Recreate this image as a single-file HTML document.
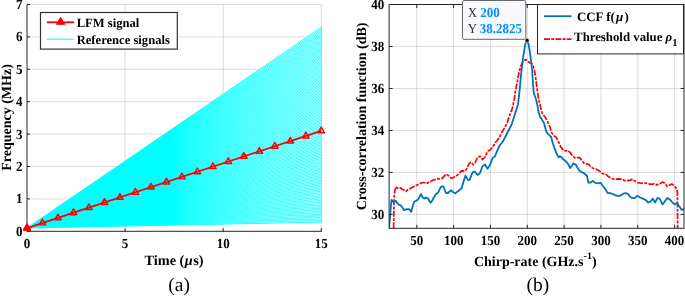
<!DOCTYPE html>
<html><head><meta charset="utf-8"><style>html,body{margin:0;padding:0;background:#fff;overflow:hidden}svg{display:block}text{text-rendering:geometricPrecision}</style></head>
<body>
<svg width="685" height="296" viewBox="0 0 685 296">
<rect width="685" height="296" fill="#fff"/>
<line x1="27.0" y1="198.90" x2="321.25" y2="198.90" stroke="#000" stroke-opacity="0.14" stroke-width="1"/>
<line x1="27.0" y1="166.50" x2="321.25" y2="166.50" stroke="#000" stroke-opacity="0.14" stroke-width="1"/>
<line x1="27.0" y1="134.10" x2="321.25" y2="134.10" stroke="#000" stroke-opacity="0.14" stroke-width="1"/>
<line x1="27.0" y1="101.70" x2="321.25" y2="101.70" stroke="#000" stroke-opacity="0.14" stroke-width="1"/>
<line x1="27.0" y1="69.30" x2="321.25" y2="69.30" stroke="#000" stroke-opacity="0.14" stroke-width="1"/>
<line x1="27.0" y1="36.90" x2="321.25" y2="36.90" stroke="#000" stroke-opacity="0.14" stroke-width="1"/>
<line x1="27.0" y1="4.50" x2="321.25" y2="4.50" stroke="#000" stroke-opacity="0.14" stroke-width="1"/>
<line x1="125.08" y1="4.5" x2="125.08" y2="231.3" stroke="#000" stroke-opacity="0.14" stroke-width="1"/>
<line x1="223.17" y1="4.5" x2="223.17" y2="231.3" stroke="#000" stroke-opacity="0.14" stroke-width="1"/>
<line x1="321.25" y1="4.5" x2="321.25" y2="231.3" stroke="#000" stroke-opacity="0.14" stroke-width="1"/>
<path d="M27.00 228.06L321.25 27.29L321.25 222.03Z" fill="#00ffff" stroke="#00ffff" stroke-width="1" stroke-linejoin="bevel"/>
<defs><linearGradient id="fg" gradientUnits="userSpaceOnUse" x1="170" y1="0" x2="321" y2="0"><stop offset="0" stop-color="#fff" stop-opacity="0"/><stop offset="1" stop-color="#fff" stop-opacity="1.0"/></linearGradient></defs>
<path d="M27.00 228.06L321.25 221.26M27.00 228.06L321.25 219.72M27.00 228.06L321.25 218.17M27.00 228.06L321.25 216.62M27.00 228.06L321.25 215.08M27.00 228.06L321.25 213.53M27.00 228.06L321.25 211.99M27.00 228.06L321.25 210.44M27.00 228.06L321.25 208.90M27.00 228.06L321.25 207.35M27.00 228.06L321.25 205.81M27.00 228.06L321.25 204.26M27.00 228.06L321.25 202.71M27.00 228.06L321.25 201.17M27.00 228.06L321.25 199.62M27.00 228.06L321.25 198.08M27.00 228.06L321.25 196.53M27.00 228.06L321.25 194.99M27.00 228.06L321.25 193.44M27.00 228.06L321.25 191.90M27.00 228.06L321.25 190.35M27.00 228.06L321.25 188.80M27.00 228.06L321.25 187.26M27.00 228.06L321.25 185.71M27.00 228.06L321.25 184.17M27.00 228.06L321.25 182.62M27.00 228.06L321.25 181.08M27.00 228.06L321.25 179.53M27.00 228.06L321.25 177.99M27.00 228.06L321.25 176.44M27.00 228.06L321.25 174.89M27.00 228.06L321.25 173.35M27.00 228.06L321.25 171.80M27.00 228.06L321.25 170.26M27.00 228.06L321.25 168.71M27.00 228.06L321.25 167.17M27.00 228.06L321.25 165.62M27.00 228.06L321.25 164.08M27.00 228.06L321.25 162.53M27.00 228.06L321.25 160.98M27.00 228.06L321.25 159.44M27.00 228.06L321.25 157.89M27.00 228.06L321.25 156.35M27.00 228.06L321.25 154.80M27.00 228.06L321.25 153.26M27.00 228.06L321.25 151.71M27.00 228.06L321.25 150.17M27.00 228.06L321.25 148.62M27.00 228.06L321.25 147.07M27.00 228.06L321.25 145.53M27.00 228.06L321.25 143.98M27.00 228.06L321.25 142.44M27.00 228.06L321.25 140.89M27.00 228.06L321.25 139.35M27.00 228.06L321.25 137.80M27.00 228.06L321.25 136.26M27.00 228.06L321.25 134.71M27.00 228.06L321.25 133.16M27.00 228.06L321.25 131.62M27.00 228.06L321.25 130.07M27.00 228.06L321.25 128.53M27.00 228.06L321.25 126.98M27.00 228.06L321.25 125.44M27.00 228.06L321.25 123.89M27.00 228.06L321.25 122.35M27.00 228.06L321.25 120.80M27.00 228.06L321.25 119.25M27.00 228.06L321.25 117.71M27.00 228.06L321.25 116.16M27.00 228.06L321.25 114.62M27.00 228.06L321.25 113.07M27.00 228.06L321.25 111.53M27.00 228.06L321.25 109.98M27.00 228.06L321.25 108.44M27.00 228.06L321.25 106.89M27.00 228.06L321.25 105.34M27.00 228.06L321.25 103.80M27.00 228.06L321.25 102.25M27.00 228.06L321.25 100.71M27.00 228.06L321.25 99.16M27.00 228.06L321.25 97.62M27.00 228.06L321.25 96.07M27.00 228.06L321.25 94.53M27.00 228.06L321.25 92.98M27.00 228.06L321.25 91.43M27.00 228.06L321.25 89.89M27.00 228.06L321.25 88.34M27.00 228.06L321.25 86.80M27.00 228.06L321.25 85.25M27.00 228.06L321.25 83.71M27.00 228.06L321.25 82.16M27.00 228.06L321.25 80.62M27.00 228.06L321.25 79.07M27.00 228.06L321.25 77.52M27.00 228.06L321.25 75.98M27.00 228.06L321.25 74.43M27.00 228.06L321.25 72.89M27.00 228.06L321.25 71.34M27.00 228.06L321.25 69.80M27.00 228.06L321.25 68.25M27.00 228.06L321.25 66.71M27.00 228.06L321.25 65.16M27.00 228.06L321.25 63.61M27.00 228.06L321.25 62.07M27.00 228.06L321.25 60.52M27.00 228.06L321.25 58.98M27.00 228.06L321.25 57.43M27.00 228.06L321.25 55.89M27.00 228.06L321.25 54.34M27.00 228.06L321.25 52.80M27.00 228.06L321.25 51.25M27.00 228.06L321.25 49.70M27.00 228.06L321.25 48.16M27.00 228.06L321.25 46.61M27.00 228.06L321.25 45.07M27.00 228.06L321.25 43.52M27.00 228.06L321.25 41.98M27.00 228.06L321.25 40.43M27.00 228.06L321.25 38.89M27.00 228.06L321.25 37.34M27.00 228.06L321.25 35.79M27.00 228.06L321.25 34.25M27.00 228.06L321.25 32.70M27.00 228.06L321.25 31.16M27.00 228.06L321.25 29.61M27.00 228.06L321.25 28.07" stroke="url(#fg)" stroke-width="0.75" fill="none"/>
<line x1="27.00" y1="228.06" x2="321.25" y2="130.86" stroke="#ff0000" stroke-width="1.8"/>
<line x1="27.0" y1="4.5" x2="27.0" y2="231.3" stroke="#262626" stroke-width="1"/>
<line x1="27.0" y1="231.3" x2="321.75" y2="231.3" stroke="#262626" stroke-width="1"/>
<line x1="27.0" y1="231.30" x2="30.0" y2="231.30" stroke="#262626" stroke-width="1"/>
<line x1="27.0" y1="198.90" x2="30.0" y2="198.90" stroke="#262626" stroke-width="1"/>
<line x1="27.0" y1="166.50" x2="30.0" y2="166.50" stroke="#262626" stroke-width="1"/>
<line x1="27.0" y1="134.10" x2="30.0" y2="134.10" stroke="#262626" stroke-width="1"/>
<line x1="27.0" y1="101.70" x2="30.0" y2="101.70" stroke="#262626" stroke-width="1"/>
<line x1="27.0" y1="69.30" x2="30.0" y2="69.30" stroke="#262626" stroke-width="1"/>
<line x1="27.0" y1="36.90" x2="30.0" y2="36.90" stroke="#262626" stroke-width="1"/>
<line x1="27.0" y1="4.50" x2="30.0" y2="4.50" stroke="#262626" stroke-width="1"/>
<line x1="27.00" y1="231.3" x2="27.00" y2="228.3" stroke="#262626" stroke-width="1"/>
<line x1="125.08" y1="231.3" x2="125.08" y2="228.3" stroke="#262626" stroke-width="1"/>
<line x1="223.17" y1="231.3" x2="223.17" y2="228.3" stroke="#262626" stroke-width="1"/>
<line x1="321.25" y1="231.3" x2="321.25" y2="228.3" stroke="#262626" stroke-width="1"/>
<path d="M27.00 224.26L30.25 230.01L23.75 230.01ZM42.49 219.14L45.74 224.89L39.24 224.89ZM57.97 214.03L61.22 219.78L54.72 219.78ZM73.46 208.91L76.71 214.66L70.21 214.66ZM88.95 203.80L92.20 209.55L85.70 209.55ZM104.43 198.68L107.68 204.43L101.18 204.43ZM119.92 193.57L123.17 199.32L116.67 199.32ZM135.41 188.45L138.66 194.20L132.16 194.20ZM150.89 183.33L154.14 189.08L147.64 189.08ZM166.38 178.22L169.63 183.97L163.13 183.97ZM181.87 173.10L185.12 178.85L178.62 178.85ZM197.36 167.99L200.61 173.74L194.11 173.74ZM212.84 162.87L216.09 168.62L209.59 168.62ZM228.33 157.75L231.58 163.50L225.08 163.50ZM243.82 152.64L247.07 158.39L240.57 158.39ZM259.30 147.52L262.55 153.27L256.05 153.27ZM274.79 142.41L278.04 148.16L271.54 148.16ZM290.28 137.29L293.53 143.04L287.03 143.04ZM305.76 132.18L309.01 137.93L302.51 137.93ZM321.25 127.06L324.50 132.81L318.00 132.81Z" stroke="#ff0000" stroke-width="1.45" fill="none" stroke-linejoin="round"/>
<path d="M27.00 224.26L30.25 230.01L23.75 230.01Z" stroke="#ff0000" stroke-width="1.6" fill="#ff0000" stroke-linejoin="round"/>
<text transform="translate(22.4 235.70) scale(1 1.07)" text-anchor="end" font-family="'Liberation Serif', 'Times New Roman', serif" font-weight="bold" font-size="13">0</text>
<text transform="translate(22.4 203.30) scale(1 1.07)" text-anchor="end" font-family="'Liberation Serif', 'Times New Roman', serif" font-weight="bold" font-size="13">1</text>
<text transform="translate(22.4 170.90) scale(1 1.07)" text-anchor="end" font-family="'Liberation Serif', 'Times New Roman', serif" font-weight="bold" font-size="13">2</text>
<text transform="translate(22.4 138.50) scale(1 1.07)" text-anchor="end" font-family="'Liberation Serif', 'Times New Roman', serif" font-weight="bold" font-size="13">3</text>
<text transform="translate(22.4 106.10) scale(1 1.07)" text-anchor="end" font-family="'Liberation Serif', 'Times New Roman', serif" font-weight="bold" font-size="13">4</text>
<text transform="translate(22.4 73.70) scale(1 1.07)" text-anchor="end" font-family="'Liberation Serif', 'Times New Roman', serif" font-weight="bold" font-size="13">5</text>
<text transform="translate(22.4 41.30) scale(1 1.07)" text-anchor="end" font-family="'Liberation Serif', 'Times New Roman', serif" font-weight="bold" font-size="13">6</text>
<text transform="translate(22.4 8.90) scale(1 1.07)" text-anchor="end" font-family="'Liberation Serif', 'Times New Roman', serif" font-weight="bold" font-size="13">7</text>
<text transform="translate(27.00 248.3) scale(1 1.07)" text-anchor="middle" font-family="'Liberation Serif', 'Times New Roman', serif" font-weight="bold" font-size="13">0</text>
<text transform="translate(125.08 248.3) scale(1 1.07)" text-anchor="middle" font-family="'Liberation Serif', 'Times New Roman', serif" font-weight="bold" font-size="13">5</text>
<text transform="translate(223.17 248.3) scale(1 1.07)" text-anchor="middle" font-family="'Liberation Serif', 'Times New Roman', serif" font-weight="bold" font-size="13">10</text>
<text transform="translate(321.25 248.3) scale(1 1.07)" text-anchor="middle" font-family="'Liberation Serif', 'Times New Roman', serif" font-weight="bold" font-size="13">15</text>
<text transform="translate(11.2 117.5) rotate(-90)" text-anchor="middle" font-family="'Liberation Serif', 'Times New Roman', serif" font-weight="bold" font-size="14">Frequency (MHz)</text>
<text x="174.0" y="265.2" text-anchor="middle" font-family="'Liberation Serif', 'Times New Roman', serif" font-weight="bold" font-size="14.3">Time (<tspan font-style="italic" dx="0.3">μ</tspan><tspan dx="0.6">s)</tspan></text>
<text x="179.2" y="290.9" text-anchor="middle" font-family="'Liberation Serif', 'Times New Roman', serif" font-size="19.5">(a)</text>
<rect x="40.5" y="12.5" width="136.8" height="36.6" fill="#fff" stroke="#333" stroke-width="1.2"/>
<line x1="46.9" y1="22.3" x2="74.1" y2="22.3" stroke="#ff0000" stroke-width="1.8"/>
<path d="M60.6 17.4L64.8 24.3L56.4 24.3Z" fill="#ff0000" stroke="#ff0000" stroke-width="1"/>
<line x1="46.9" y1="39.2" x2="74.1" y2="39.2" stroke="#00ffff" stroke-width="1"/>
<text x="76.7" y="27" font-family="'Liberation Serif', 'Times New Roman', serif" font-weight="bold" font-size="12.6">LFM signal</text>
<text x="76.7" y="43.5" font-family="'Liberation Serif', 'Times New Roman', serif" font-weight="bold" font-size="12.6">Reference signals</text>
<line x1="389.1" y1="214.40" x2="684.0" y2="214.40" stroke="#000" stroke-opacity="0.14" stroke-width="1"/>
<line x1="389.1" y1="172.42" x2="684.0" y2="172.42" stroke="#000" stroke-opacity="0.14" stroke-width="1"/>
<line x1="389.1" y1="130.44" x2="684.0" y2="130.44" stroke="#000" stroke-opacity="0.14" stroke-width="1"/>
<line x1="389.1" y1="88.46" x2="684.0" y2="88.46" stroke="#000" stroke-opacity="0.14" stroke-width="1"/>
<line x1="389.1" y1="46.48" x2="684.0" y2="46.48" stroke="#000" stroke-opacity="0.14" stroke-width="1"/>
<line x1="416.80" y1="4.5" x2="416.80" y2="228.3" stroke="#000" stroke-opacity="0.14" stroke-width="1"/>
<line x1="453.63" y1="4.5" x2="453.63" y2="228.3" stroke="#000" stroke-opacity="0.14" stroke-width="1"/>
<line x1="490.46" y1="4.5" x2="490.46" y2="228.3" stroke="#000" stroke-opacity="0.14" stroke-width="1"/>
<line x1="527.29" y1="4.5" x2="527.29" y2="228.3" stroke="#000" stroke-opacity="0.14" stroke-width="1"/>
<line x1="564.12" y1="4.5" x2="564.12" y2="228.3" stroke="#000" stroke-opacity="0.14" stroke-width="1"/>
<line x1="600.95" y1="4.5" x2="600.95" y2="228.3" stroke="#000" stroke-opacity="0.14" stroke-width="1"/>
<line x1="637.78" y1="4.5" x2="637.78" y2="228.3" stroke="#000" stroke-opacity="0.14" stroke-width="1"/>
<line x1="674.61" y1="4.5" x2="674.61" y2="228.3" stroke="#000" stroke-opacity="0.14" stroke-width="1"/>
<svg x="389.1" y="4.5" width="294.9" height="223.8" viewBox="389.1 4.5 294.9 223.8" overflow="hidden">
<polyline points="393.6,228.3 394.0,199.9 394.6,192.1 395.9,186.7 397.4,188.2 399.0,188.7 400.6,187.8 402.1,189.3 404.4,190.2 406.0,191.3 407.6,189.8 409.9,188.7 412.2,187.4 414.5,186.2 416.9,185.1 419.2,183.9 421.5,182.8 423.9,182.5 425.7,182.8 427.8,183.1 429.3,181.5 430.6,181.5 432.9,180.2 435.2,179.4 437.6,178.7 439.9,179.0 442.2,178.4 444.6,175.6 446.1,174.3 448.0,175.2 450.0,177.4 452.0,178.4 453.9,177.1 456.2,175.9 458.5,174.3 460.9,171.2 462.9,170.9 465.1,171.2 467.1,167.8 469.4,163.1 471.3,162.3 473.3,164.7 475.0,163.0 477.5,157.5 480.0,156.2 482.5,159.5 485.0,157.0 487.5,151.2 490.0,150.0 492.5,147.5 495.0,143.0 497.5,140.0 500.0,136.2 502.5,131.2 505.0,127.0 507.4,122.3 509.3,116.1 511.3,111.4 512.9,106.0 514.4,98.2 515.5,90.4 516.8,84.2 518.0,78.0 519.0,72.3 520.6,66.9 522.1,63.0 523.7,61.4 525.2,59.9 526.8,60.2 528.3,61.7 529.9,63.0 531.4,63.0 533.0,65.3 534.5,70.8 535.7,78.0 536.7,85.8 537.8,94.3 539.0,100.4 540.6,107.4 542.4,113.7 544.8,116.8 546.8,119.9 548.7,123.8 550.2,127.7 551.7,133.0 553.8,135.6 556.2,137.4 558.7,142.0 560.9,147.1 563.2,149.9 565.6,151.0 567.9,150.5 570.2,152.6 572.6,155.7 574.9,158.0 577.2,157.7 579.5,157.7 581.9,160.3 584.2,163.4 586.7,163.9 589.0,164.5 591.4,167.3 594.3,168.9 597.1,169.5 599.9,171.4 602.7,173.6 605.4,174.0 608.2,176.4 611.0,178.2 613.8,179.2 616.6,179.2 619.4,178.8 622.2,179.2 625.0,180.7 627.8,180.7 630.3,180.1 632.8,179.2 634.8,181.1 637.5,182.6 640.2,183.0 643.0,183.4 645.8,183.0 648.6,183.9 651.4,184.3 654.2,183.9 657.0,184.9 659.7,183.9 662.5,182.1 664.9,183.4 667.2,186.4 669.4,185.2 671.8,183.9 674.2,185.8 676.5,188.6 677.4,192.3 677.6,228.3" fill="none" stroke="#ff0000" stroke-width="1.7" stroke-dasharray="6 1.3 3 1.3" stroke-linejoin="round"/>
<polyline points="389.1,228.3 389.7,221.0 390.9,206.1 391.5,199.9 392.8,201.4 394.0,202.2 395.6,200.7 397.1,203.0 399.0,204.9 400.6,205.3 402.1,206.9 403.7,210.0 406.0,209.5 408.3,208.9 409.9,210.0 411.1,211.9 412.7,206.1 414.2,201.7 416.1,200.7 418.0,199.6 419.5,196.8 421.1,194.0 422.3,196.8 424.2,198.6 426.2,197.6 427.8,198.3 429.3,200.7 430.6,202.8 432.1,200.7 434.0,197.3 436.0,193.9 438.0,192.7 439.9,188.8 441.4,186.4 443.3,186.4 444.6,189.5 446.1,193.0 448.0,193.0 450.8,190.3 453.1,191.9 455.4,193.4 457.0,191.9 459.3,190.3 461.7,188.0 463.5,181.8 465.5,175.6 467.9,179.9 469.7,179.9 471.8,174.0 473.3,171.7 475.0,172.0 477.5,175.0 480.0,173.0 482.5,166.2 485.0,164.5 487.5,168.8 490.0,165.0 492.5,158.0 495.0,156.2 497.5,150.0 500.0,145.0 502.5,142.0 505.0,137.5 507.5,132.5 508.8,130.0 511.8,124.0 514.0,116.9 516.0,110.7 518.0,104.4 519.1,95.1 519.9,87.3 520.5,80.0 521.3,72.3 522.4,63.0 523.7,53.7 525.2,44.3 527.1,40.4 528.6,44.3 529.9,52.1 531.1,61.4 532.2,70.8 533.1,85.8 533.9,93.6 534.7,95.5 536.2,99.7 537.5,105.9 538.6,112.1 540.1,116.8 542.1,119.9 544.0,123.0 545.2,127.7 546.3,131.5 547.9,133.9 549.9,135.7 551.2,137.0 552.8,143.2 554.7,148.7 556.5,153.3 558.6,157.2 560.1,156.4 561.7,157.2 563.2,159.5 564.8,160.3 567.1,162.7 568.7,165.0 570.2,168.1 571.8,165.8 573.3,163.4 575.7,164.5 577.7,168.1 579.5,170.7 581.1,172.0 583.4,172.8 585.5,174.5 587.0,176.0 588.3,182.5 590.6,182.5 592.8,181.0 595.2,182.9 598.0,183.3 600.8,182.9 602.7,185.7 605.1,188.8 607.7,193.1 610.1,193.1 612.9,194.0 615.7,195.5 618.5,195.9 620.7,195.5 623.1,193.7 625.9,193.1 628.1,194.0 630.0,196.8 632.4,198.1 634.8,198.1 637.2,195.8 640.2,197.5 643.4,198.8 645.8,200.1 648.2,202.5 650.4,201.6 652.7,198.8 655.1,202.5 657.5,197.9 659.7,198.8 662.5,204.4 665.3,200.7 667.5,197.9 670.0,199.7 672.4,202.5 674.6,204.4 676.8,203.1 679.3,206.2 681.7,210.0 683.0,209.3 684.0,208.6" fill="none" stroke="#0072bd" stroke-width="1.8" stroke-linejoin="round"/>
</svg>
<rect x="389.1" y="4.5" width="294.9" height="223.8" fill="none" stroke="#262626" stroke-width="1"/>
<line x1="389.1" y1="214.40" x2="392.6" y2="214.40" stroke="#262626" stroke-width="1"/>
<line x1="684.0" y1="214.40" x2="680.5" y2="214.40" stroke="#262626" stroke-width="1"/>
<text transform="translate(384.3 218.80) scale(1 1.07)" text-anchor="end" font-family="'Liberation Serif', 'Times New Roman', serif" font-weight="bold" font-size="13">30</text>
<line x1="389.1" y1="172.42" x2="392.6" y2="172.42" stroke="#262626" stroke-width="1"/>
<line x1="684.0" y1="172.42" x2="680.5" y2="172.42" stroke="#262626" stroke-width="1"/>
<text transform="translate(384.3 176.82) scale(1 1.07)" text-anchor="end" font-family="'Liberation Serif', 'Times New Roman', serif" font-weight="bold" font-size="13">32</text>
<line x1="389.1" y1="130.44" x2="392.6" y2="130.44" stroke="#262626" stroke-width="1"/>
<line x1="684.0" y1="130.44" x2="680.5" y2="130.44" stroke="#262626" stroke-width="1"/>
<text transform="translate(384.3 134.84) scale(1 1.07)" text-anchor="end" font-family="'Liberation Serif', 'Times New Roman', serif" font-weight="bold" font-size="13">34</text>
<line x1="389.1" y1="88.46" x2="392.6" y2="88.46" stroke="#262626" stroke-width="1"/>
<line x1="684.0" y1="88.46" x2="680.5" y2="88.46" stroke="#262626" stroke-width="1"/>
<text transform="translate(384.3 92.86) scale(1 1.07)" text-anchor="end" font-family="'Liberation Serif', 'Times New Roman', serif" font-weight="bold" font-size="13">36</text>
<line x1="389.1" y1="46.48" x2="392.6" y2="46.48" stroke="#262626" stroke-width="1"/>
<line x1="684.0" y1="46.48" x2="680.5" y2="46.48" stroke="#262626" stroke-width="1"/>
<text transform="translate(384.3 50.88) scale(1 1.07)" text-anchor="end" font-family="'Liberation Serif', 'Times New Roman', serif" font-weight="bold" font-size="13">38</text>
<line x1="389.1" y1="4.50" x2="392.6" y2="4.50" stroke="#262626" stroke-width="1"/>
<line x1="684.0" y1="4.50" x2="680.5" y2="4.50" stroke="#262626" stroke-width="1"/>
<text transform="translate(384.3 8.90) scale(1 1.07)" text-anchor="end" font-family="'Liberation Serif', 'Times New Roman', serif" font-weight="bold" font-size="13">40</text>
<line x1="416.80" y1="228.3" x2="416.80" y2="224.8" stroke="#262626" stroke-width="1"/>
<line x1="416.80" y1="4.5" x2="416.80" y2="8.0" stroke="#262626" stroke-width="1"/>
<text transform="translate(416.80 245.0) scale(1 1.07)" text-anchor="middle" font-family="'Liberation Serif', 'Times New Roman', serif" font-weight="bold" font-size="13">50</text>
<line x1="453.63" y1="228.3" x2="453.63" y2="224.8" stroke="#262626" stroke-width="1"/>
<line x1="453.63" y1="4.5" x2="453.63" y2="8.0" stroke="#262626" stroke-width="1"/>
<text transform="translate(453.63 245.0) scale(1 1.07)" text-anchor="middle" font-family="'Liberation Serif', 'Times New Roman', serif" font-weight="bold" font-size="13">100</text>
<line x1="490.46" y1="228.3" x2="490.46" y2="224.8" stroke="#262626" stroke-width="1"/>
<line x1="490.46" y1="4.5" x2="490.46" y2="8.0" stroke="#262626" stroke-width="1"/>
<text transform="translate(490.46 245.0) scale(1 1.07)" text-anchor="middle" font-family="'Liberation Serif', 'Times New Roman', serif" font-weight="bold" font-size="13">150</text>
<line x1="527.29" y1="228.3" x2="527.29" y2="224.8" stroke="#262626" stroke-width="1"/>
<line x1="527.29" y1="4.5" x2="527.29" y2="8.0" stroke="#262626" stroke-width="1"/>
<text transform="translate(527.29 245.0) scale(1 1.07)" text-anchor="middle" font-family="'Liberation Serif', 'Times New Roman', serif" font-weight="bold" font-size="13">200</text>
<line x1="564.12" y1="228.3" x2="564.12" y2="224.8" stroke="#262626" stroke-width="1"/>
<line x1="564.12" y1="4.5" x2="564.12" y2="8.0" stroke="#262626" stroke-width="1"/>
<text transform="translate(564.12 245.0) scale(1 1.07)" text-anchor="middle" font-family="'Liberation Serif', 'Times New Roman', serif" font-weight="bold" font-size="13">250</text>
<line x1="600.95" y1="228.3" x2="600.95" y2="224.8" stroke="#262626" stroke-width="1"/>
<line x1="600.95" y1="4.5" x2="600.95" y2="8.0" stroke="#262626" stroke-width="1"/>
<text transform="translate(600.95 245.0) scale(1 1.07)" text-anchor="middle" font-family="'Liberation Serif', 'Times New Roman', serif" font-weight="bold" font-size="13">300</text>
<line x1="637.78" y1="228.3" x2="637.78" y2="224.8" stroke="#262626" stroke-width="1"/>
<line x1="637.78" y1="4.5" x2="637.78" y2="8.0" stroke="#262626" stroke-width="1"/>
<text transform="translate(637.78 245.0) scale(1 1.07)" text-anchor="middle" font-family="'Liberation Serif', 'Times New Roman', serif" font-weight="bold" font-size="13">350</text>
<line x1="674.61" y1="228.3" x2="674.61" y2="224.8" stroke="#262626" stroke-width="1"/>
<line x1="674.61" y1="4.5" x2="674.61" y2="8.0" stroke="#262626" stroke-width="1"/>
<text transform="translate(674.61 245.0) scale(1 1.07)" text-anchor="middle" font-family="'Liberation Serif', 'Times New Roman', serif" font-weight="bold" font-size="13">400</text>
<text transform="translate(365.6 116.4) rotate(-90)" text-anchor="middle" font-family="'Liberation Serif', 'Times New Roman', serif" font-weight="bold" font-size="14">Cross-correlation function (dB)</text>
<text x="473.9" y="265.5" font-family="'Liberation Serif', 'Times New Roman', serif" font-weight="bold" font-size="14">Chirp-rate (GHz.s<tspan dy="-6.3" font-size="10">-1</tspan><tspan dy="6.3">)</tspan></text>
<text x="537.8" y="290.8" text-anchor="middle" font-family="'Liberation Serif', 'Times New Roman', serif" font-size="19.5">(b)</text>
<rect x="537.5" y="4.5" width="146" height="49.4" fill="#fff" stroke="#262626" stroke-width="1"/>
<line x1="544" y1="16.2" x2="571.5" y2="16.2" stroke="#0072bd" stroke-width="1.8"/>
<line x1="544" y1="39.2" x2="571.5" y2="39.2" stroke="#ff0000" stroke-width="1.8" stroke-dasharray="6 1.2 3 1.2"/>
<text x="576.9" y="21" font-family="'Liberation Serif', 'Times New Roman', serif" font-weight="bold" font-size="12.9">CCF f(<tspan font-style="italic" dx="1.3">μ</tspan><tspan dx="1.2">)</tspan></text>
<text x="574.1" y="40.6" font-family="'Liberation Serif', 'Times New Roman', serif" font-weight="bold" font-size="12.8">Threshold value <tspan font-style="italic">ρ</tspan><tspan dy="5.2" font-size="10.5">1</tspan></text>
<rect x="462.5" y="0.5" width="63.3" height="38.8" rx="1.5" fill="#f9f9fd" stroke="#666" stroke-width="1"/>
<text transform="translate(467.7 17) scale(1 1.06)" font-family="'Liberation Serif', 'Times New Roman', serif" font-size="13" fill="#333">X <tspan fill="#0090ff" font-weight="bold">200</tspan></text>
<text transform="translate(467.7 32.7) scale(1 1.06)" font-family="'Liberation Serif', 'Times New Roman', serif" font-size="13" fill="#333">Y <tspan fill="#0090ff" font-weight="bold">38.2825</tspan></text>
<circle cx="527.1" cy="40.4" r="2.1" fill="#000" stroke="#ffff99" stroke-width="0.6"/>
</svg>
</body></html>
